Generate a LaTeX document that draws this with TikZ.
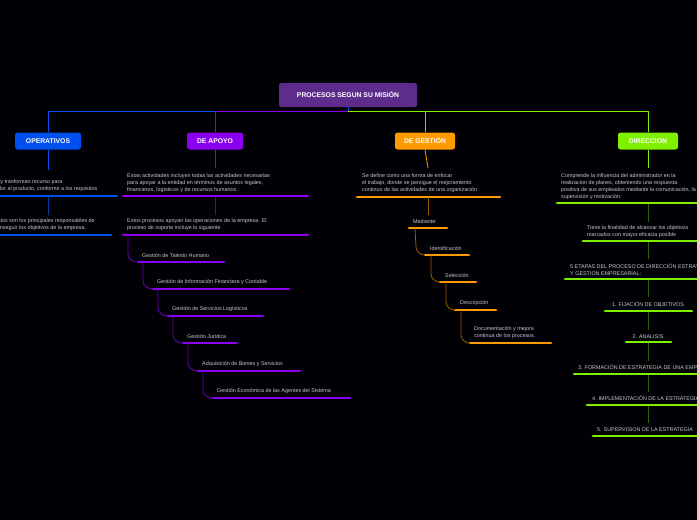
\documentclass[tikz,border=0pt]{standalone}
\usepackage{fontspec}
\setmainfont{Liberation Sans}
\usetikzlibrary{calc}
\begin{document}
\begin{tikzpicture}[x=1pt,y=-1pt,
  txt/.style={text=black!20,font=\fontsize{5.4}{7.2}\selectfont,align=left,inner sep=0pt},
  ctxt/.style={text=black!20,font=\fontsize{5.4}{7.2}\selectfont,inner sep=0pt},
  head/.style={text=white,font=\fontsize{6.8}{8}\selectfont\bfseries,rounded corners=2.5pt,minimum height=17pt,inner sep=3pt},
  ul/.style={line width=2.6pt,line cap=round},
  br/.style={line width=0.8pt}]
\useasboundingbox (0,0) rectangle (697,520);
\fill[black!98!blue] (0,0) rectangle (697,520);
\definecolor{cb}{HTML}{0050F0}\definecolor{cp}{HTML}{8A00F0}
\definecolor{co}{HTML}{FF9A00}\definecolor{cg}{HTML}{7FF000}
\definecolor{cr}{HTML}{5E2D8C}
\clip (0,0) rectangle (697,520);
% root
\node[head,fill=cr,minimum width=138pt,minimum height=24pt] (root) at (348,95) {PROCESOS SEGUN SU MISIÓN};
\node[head,fill=cb,minimum width=66pt] (op) at (48,141) {OPERATIVOS};
\node[head,fill=cp,minimum width=56pt] (ap) at (215,141) {DE APOYO};
\node[head,fill=co,minimum width=60pt] (ge) at (425,141) {DE GESTIÓN};
\node[head,fill=cg,minimum width=60pt] (di) at (648,141) {DIRECCION};
\coordinate (j) at (348,111);
\draw[br,cb] (root.south) -- (j) -| (op.north);
\draw[br,cp] (j) -| (ap.north);
\draw[br,co] (j) -| (ge.north);
\draw[br,cg] (j) -| (di.north);
% OPERATIVOS
\node[txt,anchor=north west] (o1) at (-26,179) {Combinan y tranforman recurso para\\agregar valor al producto, conforme a los requisitos\\del cliente.};
\draw[ul,cb] (0,196) -- (117,196);
\node[txt,anchor=north west] (o2) at (-6,218) {Estos son los principales responsables de\\conseguir los objetivos de la empresa.};
\draw[ul,cb] (0,235) -- (111,235);
\draw[br,cb] (op.south) -- (48,170);
\draw[br,cb!70!black] (48,196) -- (48,215);
% APOYO
\node[txt,anchor=north west] (a1) at (127,173) {Estas actividades incluyen todas las actividades necesarias\\para apoyar a la entidad en términos de asuntos legales,\\financieros, logísticos y de recursos humanos.};
\draw[ul,cp] (123,196) -- (308,196);
\draw[br,cp] (ap.south) -- (215,168);
\draw[br,cp!70!black] (215,196) -- (215,215);
\node[txt,anchor=north west] (a2) at (127,218) {Estos procesos apoyan las operaciones de la empresa. El\\proceso de soporte incluye lo siguiente};
\draw[ul,cp] (123,235) coordinate (p0) -- (308,235);
\foreach \n/\xs/\xe/\yy/\t in {1/138/224/262/Gestión de Talento Humano,
  2/153/289/289/Gestión de Información Financiera y Contable,
  3/168/263/316/Gestión de Servicios Logísticos,
  4/183/237/343/Gestión Jurídica,
  5/198/300/371/Adquisición de Bienes y Servicios,
  6/213/350/398/Gestión Económica de las Agentes del Sistema}{
  \node[ctxt,anchor=south west] (p\n t) at (\xs+4,\yy-4) {\t};
  \draw[ul,cp] (\xs,\yy) coordinate (p\n) -- (\xe,\yy);
}
\draw[br,cp!75!black] (128,235) -- (128,254) to[out=-90,in=180] (p1);
\foreach \a/\b in {1/2,2/3,3/4,4/5,5/6}{
  \draw[br,cp!75!black] ($(p\a)+(5,0)$) -- ($(p\b)+(-10,-8)$) to[out=-90,in=180] (p\b);
}
% GESTION
\node[txt,anchor=north west] (g1) at (362,173) {Se define como una forma de enfocar\\el trabajo, donde se persigue el mejoramiento\\continuo de las actividades de una organización};
\draw[ul,co] (357,197) -- (500,197);
\draw[br,co] (ge.south) -- (428,168);
\draw[br,co!60!black] (428,197) -- (428,215);
\node[ctxt,anchor=south west] (g2) at (413,224) {Mediante:};
\draw[ul,co] (409,228) coordinate (q0) -- (447,228);
\foreach \n/\xs/\xe/\yy/\t in {1/425/469/255/Identificación,2/440/476/282/Selección,3/455/496/310/Descripción}{
  \node[ctxt,anchor=south west] (q\n t) at (\xs+5,\yy-4) {\t};
  \draw[ul,co] (\xs,\yy) coordinate (q\n) -- (\xe,\yy);
}
\node[txt,anchor=south west] (q4t) at (474,339) {Documentación y mejora\\continua de los procesos.};
\draw[ul,co] (470,343) coordinate (q4) -- (551,343);
\foreach \a/\b in {0/1,1/2,2/3,3/4}{
  \draw[br,co!60!black] ($(q\a)+(6,0)$) -- ($(q\b)+(-9,-8)$) to[out=-90,in=180] (q\b);
}
% DIRECCION
\draw[br,cg] (di.south) -- (648,168);
\foreach \a/\b in {203/222,241/259,279/297,311/330,342/361,374/392,405/423}{
  \draw[br,cg!40!black] (648,\a) -- (648,\b);
}
\node[txt,anchor=north west] (d1) at (561,173) {Comprende la influencia del administrador en la\\realizacion de planes, obteniendo una respuesta\\positiva de sus empleados mediante la comunicación, la\\supervisión y motivación.};
\draw[ul,cg] (557,203) -- (700,203);
\node[txt,anchor=south west] (d2) at (587,238) {Tiene la finalidad de alcanzar los objetivos\\marcados con mayor eficacia posible};
\draw[ul,cg] (583,241) -- (700,241);
\node[txt,anchor=south west] (d3) at (570,276) {5 ETAPAS DEL PROCESO DE DIRECCIÓN ESTRATÉGICA\\Y GESTION EMPRESARIAL:};
\draw[ul,cg] (565,279) -- (700,279);
\node[ctxt,anchor=south] (d4) at (648,307) {1. FIJACIÓN DE OBJETIVOS};
\draw[ul,cg] (605,311) -- (692,311);
\node[ctxt,anchor=south] (d5) at (648,339) {2. ANALISIS};
\draw[ul,cg] (626,342) -- (671,342);
\node[ctxt,anchor=south west] (d6) at (578,370) {3. FORMACIÓN DE ESTRATEGIA DE UNA EMPRESA};
\draw[ul,cg] (574,374) -- (700,374);
\node[ctxt,anchor=south west] (d7) at (592,401) {4. IMPLEMENTACIÓN DE LA ESTRATEGIA};
\draw[ul,cg] (587,405) -- (700,405);
\node[ctxt,anchor=south west] (d8) at (597,432) {5. SUPERVISION DE LA ESTRATEGIA};
\draw[ul,cg] (593,436) -- (700,436);
\end{tikzpicture}
\end{document}
